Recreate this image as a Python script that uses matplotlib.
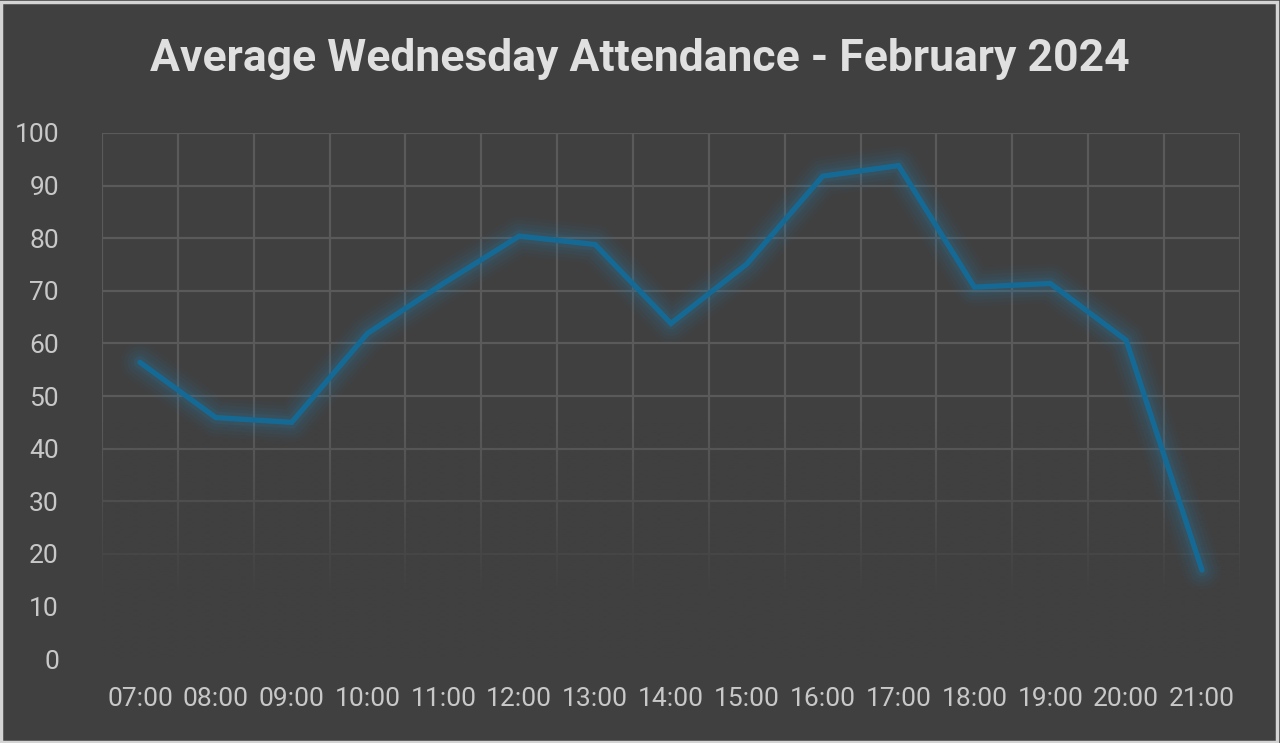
import numpy as np
import matplotlib.pyplot as plt
from matplotlib.patches import Rectangle
from matplotlib.colors import to_rgb

hours = ["07:00", "08:00", "09:00", "10:00", "11:00", "12:00", "13:00", "14:00",
         "15:00", "16:00", "17:00", "18:00", "19:00", "20:00", "21:00"]
attendance = [56.4, 45.9, 45.0, 61.9, 71.4, 80.4, 78.8, 63.8,
              75.1, 91.8, 93.8, 70.7, 71.4, 60.6, 16.9]
y_ticks = list(range(0, 101, 10))

BG = "#404040"
LINE = "#156a95"

plt.rcParams['font.family'] = ["Roboto", "DejaVu Sans"]

fig = plt.figure(figsize=(12.8, 7.43), dpi=100, facecolor=BG)
ax = fig.add_axes([0.0797, 0.113, 0.889, 0.708])
ax.set_facecolor(BG)

x = np.arange(len(hours))

# grid: vertical lines between categories, horizontal at ticks
ax.set_axisbelow(True)
ax.set_xticks(np.arange(-0.5, len(hours), 1.0), minor=True)
ax.set_xticks(x)
ax.set_xticklabels(hours)
ax.set_yticks(y_ticks)
ax.grid(True, which='minor', axis='x', color='#5a5a5a', linewidth=1.6)
ax.grid(True, which='major', axis='y', color='#5a5a5a', linewidth=1.6)
ax.grid(False, which='major', axis='x')

# fade the grid toward the bottom
bg = np.array(to_rgb(BG))
rows = np.linspace(100, 0, 400)
alpha = np.clip((45 - rows) / (45 - 12), 0, 1)
grad = np.zeros((400, 1, 4))
grad[:, 0, :3] = bg
grad[:, 0, 3] = alpha
ax.imshow(grad, extent=(-0.6, len(hours) - 0.4, 0, 100), aspect='auto',
          zorder=1, interpolation='bilinear')

# glow
for lw, a in [(28, 0.045), (23, 0.055), (18, 0.065), (13, 0.08), (9, 0.1)]:
    ax.plot(x, attendance, color='#2a7fb0', linewidth=lw, alpha=a,
            solid_capstyle='round', solid_joinstyle='round', zorder=2)
ax.plot(x, attendance, color=LINE, linewidth=3.8, solid_capstyle='round',
        solid_joinstyle='miter', zorder=3)

ax.set_xlim(-0.5, len(hours) - 0.5)
ax.set_ylim(0, 100)
for s in ax.spines.values():
    s.set_visible(False)
ax.tick_params(axis='both', which='both', length=0, colors='#c8c8c8', labelsize=19)
ax.tick_params(axis='x', pad=20)
ax.tick_params(axis='y', pad=31)

fig.text(0.5, 0.92, "Average Wednesday Attendance - February 2024", ha='center',
         va='center', fontsize=32, fontweight='bold', color='#e0e0e0')

fig.patches.append(Rectangle((0.001, 0.002), 0.997, 0.995, transform=fig.transFigure,
                             fill=False, edgecolor='#d4d4d4', linewidth=2.5))

fig.savefig("out.png", dpi=100, facecolor=BG)
